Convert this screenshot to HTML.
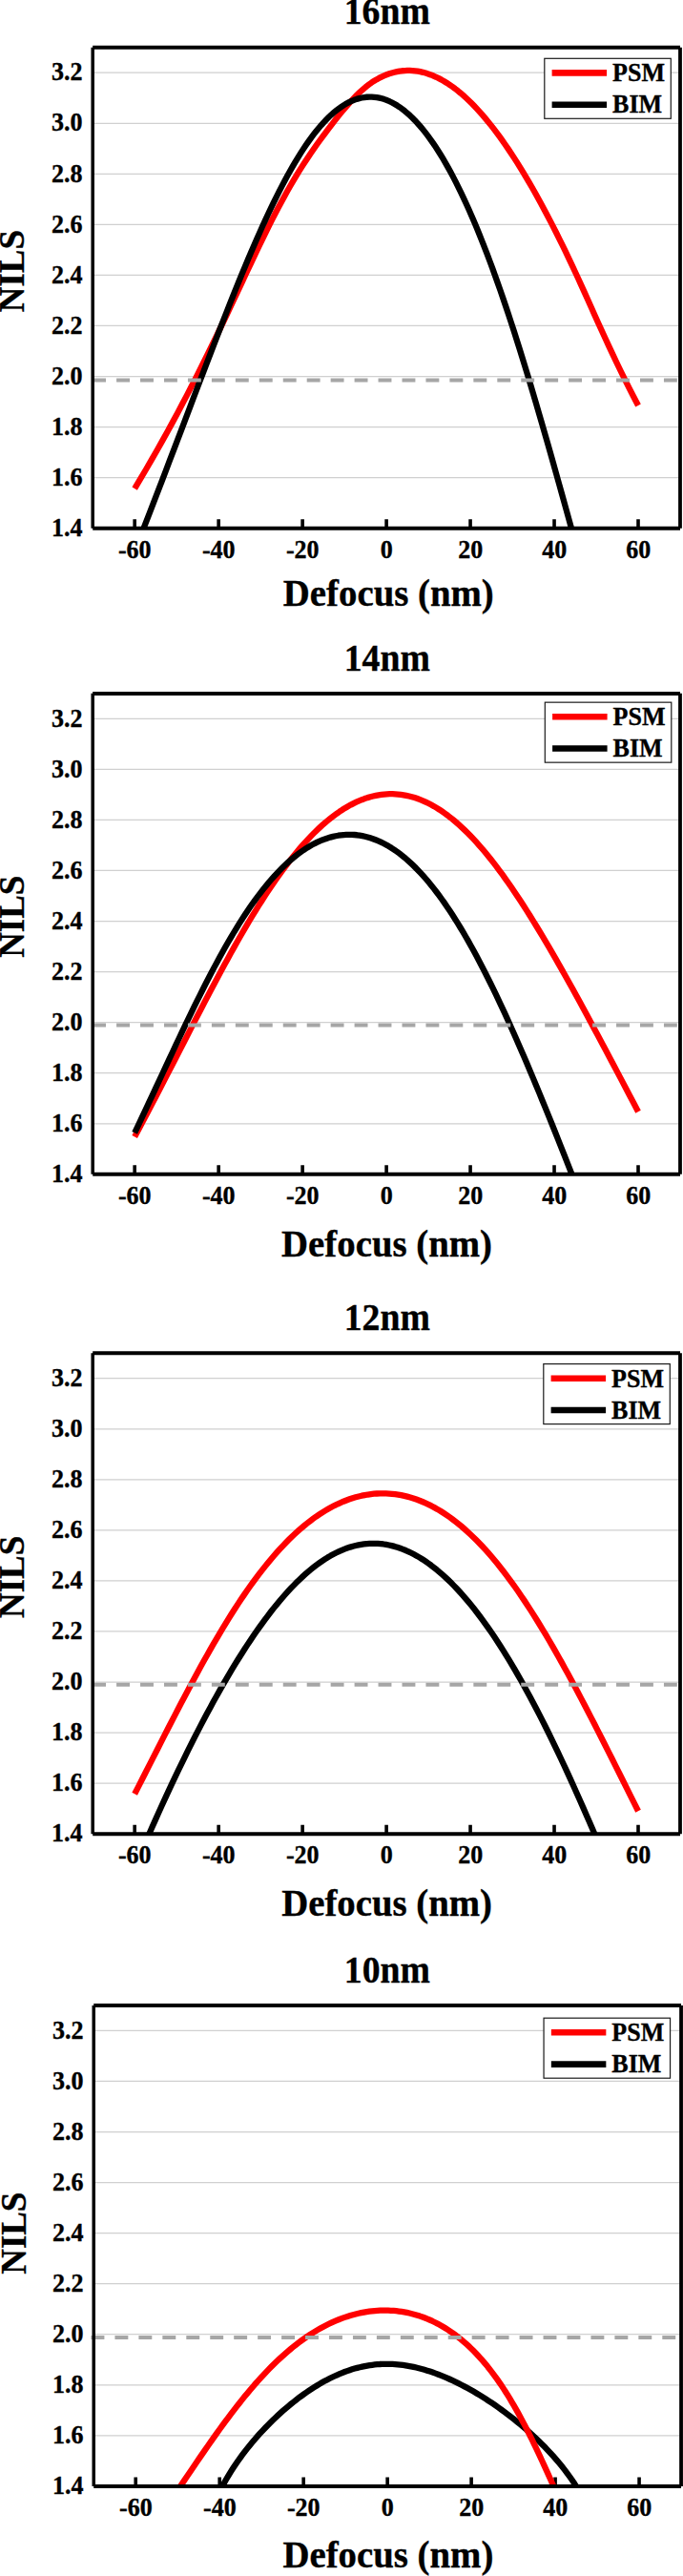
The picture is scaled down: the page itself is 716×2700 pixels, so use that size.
<!DOCTYPE html>
<html lang="en"><head><meta charset="utf-8"><title>NILS vs Defocus</title>
<style>html,body{margin:0;padding:0;background:#fff}body{width:716px;height:2700px;overflow:hidden}svg{display:block}
text{font-family:"Liberation Serif", "Times New Roman", serif;font-weight:bold;fill:#000;stroke:#000;stroke-width:0.35px}
.tk{font-size:26px}.ax{font-size:38.8px}.ay{font-size:36.9px}.tt{font-size:37.7px}.lg{font-size:26px}
</style></head><body>
<svg width="716" height="2700" viewBox="0 0 716 2700">
<rect width="716" height="2700" fill="#fff"/>
<g id="chart1">
<clipPath id="cp1"><rect x="97.2" y="49.7" width="615.8" height="504"/></clipPath>
<path d="M97.2,500.65H713M97.2,447.6H713M97.2,394.54H713M97.2,341.49H713M97.2,288.44H713M97.2,235.39H713M97.2,182.34H713M97.2,129.28H713M97.2,76.23H713" stroke="#d0d0d0" stroke-width="1.25" fill="none"/>
<path d="M141.18,553.7V544.2M229.16,553.7V544.2M317.13,553.7V544.2M405.1,553.7V544.2M493.07,553.7V544.2M581.04,553.7V544.2M669.02,553.7V544.2" stroke="#000" stroke-width="3.6" fill="none"/>
<g clip-path="url(#cp1)" fill="none" stroke-width="6.3" stroke-linejoin="round">
<path d="M141.18,512.02 L147.36,501.7 L153.36,491.51 L159.2,481.44 L164.88,471.49 L170.41,461.66 L175.78,451.96 L181.01,442.38 L186.11,432.93 L191.06,423.59 L195.89,414.38 L200.59,405.29 L205.17,396.33 L209.64,387.49 L213.99,378.77 L218.24,370.17 L222.39,361.7 L226.44,353.35 L230.4,345.12 L234.27,337.02 L238.06,329.03 L241.78,321.18 L245.42,313.44 L248.99,305.83 L252.51,298.34 L255.96,290.97 L259.36,283.73 L262.72,276.61 L266.03,269.61 L269.31,262.73 L272.55,255.98 L275.76,249.35 L278.95,242.85 L282.12,236.46 L285.27,230.2 L288.42,224.06 L291.55,218.05 L294.69,212.16 L297.82,206.39 L300.95,200.74 L304.08,195.22 L307.22,189.82 L310.37,184.54 L313.53,179.39 L316.7,174.36 L319.88,169.45 L323.05,164.66 L326.21,160 L329.35,155.46 L332.48,151.05 L335.57,146.75 L338.63,142.58 L341.65,138.53 L344.62,134.61 L347.54,130.81 L350.4,127.13 L353.2,123.57 L355.95,120.14 L358.65,116.83 L361.31,113.64 L363.93,110.58 L366.52,107.64 L369.08,104.82 L371.63,102.12 L374.16,99.55 L376.69,97.1 L379.21,94.77 L381.73,92.57 L384.26,90.49 L386.81,88.53 L389.38,86.69 L391.98,84.98 L394.6,83.39 L397.26,81.93 L399.94,80.58 L402.62,79.36 L405.31,78.27 L408,77.29 L410.69,76.44 L413.39,75.71 L416.09,75.11 L418.79,74.62 L421.51,74.26 L424.22,74.03 L426.94,73.91 L429.67,73.92 L432.4,74.05 L435.14,74.31 L437.88,74.68 L440.63,75.18 L443.38,75.81 L446.14,76.55 L448.91,77.42 L451.68,78.42 L454.46,79.53 L457.25,80.77 L460.05,82.13 L462.85,83.61 L465.66,85.22 L468.48,86.95 L471.3,88.8 L474.14,90.78 L476.98,92.88 L479.83,95.1 L482.69,97.44 L485.56,99.91 L488.43,102.5 L491.32,105.22 L494.21,108.05 L497.12,111.01 L500.03,114.09 L502.96,117.3 L505.89,120.63 L508.84,124.08 L511.79,127.65 L514.76,131.35 L517.73,135.17 L520.72,139.11 L523.72,143.18 L526.73,147.36 L529.75,151.68 L532.78,156.11 L535.83,160.67 L538.88,165.35 L541.95,170.15 L545.04,175.08 L548.13,180.12 L551.24,185.3 L554.36,190.59 L557.49,196.01 L560.63,201.55 L563.79,207.21 L566.97,213 L570.15,218.91 L573.36,224.94 L576.57,231.1 L579.8,237.37 L583.04,243.78 L586.3,250.3 L589.58,256.95 L592.87,263.72 L596.17,270.61 L599.49,277.63 L602.82,284.76 L606.17,292.03 L609.54,299.41 L612.94,306.92 L616.37,314.55 L619.86,322.3 L623.39,330.18 L627,338.18 L630.68,346.3 L634.46,354.54 L638.33,362.91 L642.31,371.4 L646.4,380.02 L650.63,388.75 L654.99,397.61 L659.5,406.6 L664.18,415.7 L669.02,424.93" stroke="#ff0000"/>
<path d="M132.39,600.23 L137.31,587.74 L142.15,575.41 L146.9,563.24 L151.57,551.23 L156.16,539.38 L160.68,527.69 L165.11,516.15 L169.47,504.77 L173.76,493.55 L177.98,482.49 L182.13,471.59 L186.22,460.85 L190.24,450.26 L194.2,439.83 L198.1,429.56 L201.94,419.45 L205.73,409.5 L209.46,399.7 L213.14,390.07 L216.76,380.59 L220.34,371.27 L223.88,362.11 L227.36,353.11 L230.8,344.26 L234.2,335.57 L237.56,327.05 L240.88,318.68 L244.17,310.47 L247.41,302.41 L250.62,294.52 L253.8,286.78 L256.95,279.2 L260.06,271.78 L263.15,264.52 L266.2,257.42 L269.24,250.47 L272.24,243.69 L275.22,237.06 L278.18,230.59 L281.11,224.28 L284.03,218.12 L286.92,212.13 L289.8,206.29 L292.66,200.61 L295.5,195.09 L298.32,189.73 L301.13,184.53 L303.93,179.48 L306.71,174.6 L309.48,169.87 L312.24,165.3 L314.98,160.89 L317.72,156.63 L320.45,152.54 L323.17,148.6 L325.88,144.82 L328.58,141.2 L331.27,137.74 L333.96,134.44 L336.65,131.29 L339.33,128.3 L342,125.48 L344.67,122.81 L347.33,120.29 L350,117.94 L352.66,115.74 L355.31,113.71 L357.97,111.83 L360.62,110.11 L363.27,108.55 L365.92,107.14 L368.57,105.9 L371.22,104.81 L373.86,103.88 L376.51,103.11 L379.16,102.5 L381.81,102.04 L384.45,101.75 L387.1,101.61 L389.75,101.63 L392.4,101.81 L395.05,102.15 L397.7,102.64 L400.36,103.3 L403.01,104.11 L405.67,105.08 L408.32,106.21 L410.98,107.5 L413.64,108.94 L416.3,110.55 L418.96,112.31 L421.63,114.23 L424.29,116.31 L426.96,118.55 L429.63,120.94 L432.3,123.5 L434.97,126.21 L437.65,129.08 L440.33,132.11 L443,135.3 L445.68,138.64 L448.36,142.15 L451.05,145.81 L453.73,149.63 L456.42,153.61 L459.11,157.75 L461.8,162.04 L464.49,166.49 L467.18,171.11 L469.88,175.88 L472.58,180.81 L475.28,185.89 L477.99,191.14 L480.69,196.54 L483.4,202.1 L486.11,207.82 L488.83,213.7 L491.55,219.74 L494.27,225.94 L497,232.29 L499.73,238.8 L502.46,245.47 L505.2,252.3 L507.95,259.29 L510.7,266.43 L513.45,273.74 L516.21,281.2 L518.98,288.82 L521.76,296.6 L524.55,304.53 L527.34,312.63 L530.14,320.88 L532.95,329.29 L535.77,337.86 L538.61,346.59 L541.45,355.48 L544.31,364.52 L547.18,373.73 L550.07,383.09 L552.97,392.61 L555.89,402.28 L558.82,412.12 L561.78,422.12 L564.75,432.27 L567.75,442.58 L570.77,453.05 L573.81,463.68 L576.87,474.46 L579.97,485.41 L583.09,496.51 L586.24,507.77 L589.42,519.19 L592.64,530.77 L595.89,542.51 L599.17,554.4 L602.5,566.46 L605.87,578.67 L609.28,591.04 L612.73,603.56 L616.23,616.25" stroke="#000"/>
</g>
<path d="M97.15,398.54H714.5" stroke="#a6a6a6" stroke-width="4.1" stroke-dasharray="13.9 11.05" fill="none"/>
<path d="M97.2,49.8H713M713,553.7H97.2" fill="none" stroke="#000" stroke-width="3.95"/>
<path d="M713,49.7V553.7" fill="none" stroke="#000" stroke-width="3.8"/>
<path d="M97.2,553.7V49.7" fill="none" stroke="#000" stroke-width="3.5"/>
<text class="tk" transform="translate(86.4,561.9) scale(1,1.04)" text-anchor="end">1.4</text>
<text class="tk" transform="translate(86.4,508.85) scale(1,1.04)" text-anchor="end">1.6</text>
<text class="tk" transform="translate(86.4,455.8) scale(1,1.04)" text-anchor="end">1.8</text>
<text class="tk" transform="translate(86.4,402.74) scale(1,1.04)" text-anchor="end">2.0</text>
<text class="tk" transform="translate(86.4,349.69) scale(1,1.04)" text-anchor="end">2.2</text>
<text class="tk" transform="translate(86.4,296.64) scale(1,1.04)" text-anchor="end">2.4</text>
<text class="tk" transform="translate(86.4,243.59) scale(1,1.04)" text-anchor="end">2.6</text>
<text class="tk" transform="translate(86.4,190.54) scale(1,1.04)" text-anchor="end">2.8</text>
<text class="tk" transform="translate(86.4,137.48) scale(1,1.04)" text-anchor="end">3.0</text>
<text class="tk" transform="translate(86.4,84.43) scale(1,1.04)" text-anchor="end">3.2</text>
<text class="tk" transform="translate(141.28,584.9) scale(1,1.04)" text-anchor="middle">-60</text>
<text class="tk" transform="translate(229.26,584.9) scale(1,1.04)" text-anchor="middle">-40</text>
<text class="tk" transform="translate(317.23,584.9) scale(1,1.04)" text-anchor="middle">-20</text>
<text class="tk" transform="translate(405.2,584.9) scale(1,1.04)" text-anchor="middle">0</text>
<text class="tk" transform="translate(493.17,584.9) scale(1,1.04)" text-anchor="middle">20</text>
<text class="tk" transform="translate(581.14,584.9) scale(1,1.04)" text-anchor="middle">40</text>
<text class="tk" transform="translate(669.12,584.9) scale(1,1.04)" text-anchor="middle">60</text>
<text class="ax" transform="translate(407.3,634.5) scale(1,1.04)" text-anchor="middle">Defocus (nm)</text>
<text class="ay" transform="translate(24.9,284.1) rotate(-90) scale(1,1.04)" text-anchor="middle">NILS</text>
<text class="tt" transform="translate(405.8,25.4) scale(1,1.04)" text-anchor="middle">16nm</text>
<rect x="570.8" y="61.3" width="132.5" height="63" fill="#fff" stroke="#1a1a1a" stroke-width="1.2"/>
<path d="M578.6,76.4H636.1" stroke="#ff0000" stroke-width="6.6"/>
<path d="M578.6,109.7H636.1" stroke="#000" stroke-width="6.6"/>
<text class="lg" transform="translate(642.1,85.4) scale(1,1.04)">PSM</text>
<text class="lg" transform="translate(642.1,118.3) scale(1,1.04)">BIM</text>
</g>
<g id="chart2">
<clipPath id="cp2"><rect x="97.2" y="726.85" width="615.8" height="503.95"/></clipPath>
<path d="M97.2,1177.75H713M97.2,1124.7H713M97.2,1071.64H713M97.2,1018.59H713M97.2,965.54H713M97.2,912.49H713M97.2,859.44H713M97.2,806.38H713M97.2,753.33H713" stroke="#d0d0d0" stroke-width="1.25" fill="none"/>
<path d="M141.18,1230.8V1221.3M229.16,1230.8V1221.3M317.13,1230.8V1221.3M405.1,1230.8V1221.3M493.07,1230.8V1221.3M581.04,1230.8V1221.3M669.02,1230.8V1221.3" stroke="#000" stroke-width="3.6" fill="none"/>
<g clip-path="url(#cp2)" fill="none" stroke-width="6.3" stroke-linejoin="round">
<path d="M141.18,1191.47 L145.86,1182.71 L150.44,1174.05 L154.94,1165.51 L159.36,1157.07 L163.7,1148.74 L167.97,1140.53 L172.17,1132.41 L176.3,1124.41 L180.36,1116.51 L184.36,1108.73 L188.31,1101.05 L192.2,1093.48 L196.03,1086.01 L199.82,1078.66 L203.55,1071.41 L207.25,1064.27 L210.89,1057.24 L214.5,1050.32 L218.07,1043.51 L221.6,1036.8 L225.09,1030.2 L228.55,1023.71 L231.98,1017.33 L235.38,1011.06 L238.75,1004.89 L242.09,998.84 L245.41,992.89 L248.71,987.05 L251.98,981.31 L255.23,975.69 L258.46,970.17 L261.67,964.76 L264.87,959.46 L268.04,954.27 L271.2,949.19 L274.35,944.21 L277.48,939.34 L280.6,934.58 L283.71,929.93 L286.8,925.39 L289.88,920.95 L292.96,916.63 L296.02,912.41 L299.07,908.3 L302.12,904.3 L305.16,900.4 L308.19,896.61 L311.21,892.94 L314.22,889.37 L317.23,885.9 L320.24,882.55 L323.23,879.3 L326.23,876.17 L329.21,873.14 L332.19,870.22 L335.17,867.4 L338.14,864.7 L341.11,862.1 L344.08,859.61 L347.04,857.23 L350,854.96 L352.95,852.79 L355.9,850.74 L358.85,848.79 L361.79,846.95 L364.73,845.22 L367.67,843.59 L370.6,842.08 L373.54,840.67 L376.46,839.37 L379.39,838.18 L382.32,837.1 L385.24,836.12 L388.16,835.25 L391.08,834.5 L393.99,833.85 L396.9,833.3 L399.82,832.87 L402.73,832.54 L405.63,832.32 L408.54,832.21 L411.45,832.21 L414.35,832.32 L417.25,832.53 L420.16,832.86 L423.06,833.29 L425.96,833.83 L428.86,834.47 L431.76,835.23 L434.66,836.09 L437.56,837.06 L440.46,838.14 L443.37,839.33 L446.27,840.63 L449.17,842.03 L452.08,843.54 L454.99,845.16 L457.9,846.89 L460.81,848.73 L463.73,850.67 L466.65,852.72 L469.57,854.88 L472.5,857.15 L475.43,859.53 L478.37,862.02 L481.32,864.61 L484.27,867.31 L487.22,870.12 L490.19,873.04 L493.16,876.06 L496.14,879.2 L499.13,882.44 L502.13,885.79 L505.14,889.25 L508.16,892.81 L511.19,896.49 L514.23,900.27 L517.29,904.16 L520.36,908.16 L523.45,912.27 L526.55,916.48 L529.66,920.81 L532.79,925.24 L535.95,929.78 L539.11,934.43 L542.3,939.18 L545.51,944.05 L548.74,949.02 L551.99,954.1 L555.26,959.29 L558.56,964.58 L561.88,969.99 L565.23,975.5 L568.61,981.12 L572.01,986.85 L575.44,992.69 L578.9,998.64 L582.39,1004.69 L585.91,1010.85 L589.46,1017.12 L593.05,1023.5 L596.67,1029.98 L600.33,1036.58 L604.03,1043.28 L607.76,1050.09 L611.53,1057.01 L615.34,1064.04 L619.2,1071.17 L623.09,1078.41 L627.03,1085.77 L631.01,1093.22 L635.04,1100.79 L639.11,1108.47 L643.23,1116.25 L647.4,1124.14 L651.62,1132.14 L655.89,1140.25 L660.21,1148.47 L664.59,1156.79 L669.02,1165.22" stroke="#ff0000"/>
<path d="M141.18,1187.31 L145.12,1179.04 L148.98,1170.89 L152.77,1162.84 L156.49,1154.91 L160.16,1147.09 L163.76,1139.37 L167.31,1131.77 L170.81,1124.28 L174.26,1116.9 L177.66,1109.63 L181.01,1102.48 L184.33,1095.43 L187.6,1088.49 L190.84,1081.67 L194.04,1074.95 L197.21,1068.35 L200.35,1061.85 L203.46,1055.47 L206.55,1049.2 L209.61,1043.04 L212.64,1036.99 L215.66,1031.05 L218.65,1025.22 L221.63,1019.5 L224.58,1013.9 L227.53,1008.4 L230.45,1003.01 L233.37,997.74 L236.27,992.58 L239.16,987.52 L242.04,982.58 L244.91,977.75 L247.77,973.03 L250.63,968.42 L253.48,963.92 L256.32,959.53 L259.15,955.25 L261.98,951.09 L264.81,947.03 L267.63,943.08 L270.45,939.25 L273.27,935.53 L276.09,931.91 L278.9,928.41 L281.71,925.02 L284.52,921.74 L287.33,918.57 L290.13,915.51 L292.94,912.56 L295.75,909.73 L298.55,907 L301.36,904.38 L304.16,901.88 L306.97,899.48 L309.77,897.2 L312.58,895.03 L315.38,892.97 L318.19,891.02 L320.99,889.18 L323.8,887.45 L326.6,885.83 L329.41,884.32 L332.21,882.92 L335.02,881.64 L337.82,880.46 L340.63,879.4 L343.43,878.44 L346.24,877.6 L349.04,876.87 L351.84,876.25 L354.64,875.74 L357.44,875.34 L360.24,875.05 L363.04,874.87 L365.84,874.8 L368.64,874.84 L371.43,875 L374.23,875.26 L377.02,875.64 L379.81,876.12 L382.6,876.72 L385.39,877.43 L388.17,878.25 L390.96,879.18 L393.74,880.22 L396.52,881.37 L399.3,882.63 L402.08,884 L404.86,885.49 L407.63,887.08 L410.41,888.79 L413.18,890.6 L415.95,892.53 L418.72,894.57 L421.48,896.72 L424.25,898.97 L427.02,901.34 L429.78,903.83 L432.54,906.42 L435.31,909.12 L438.07,911.93 L440.83,914.86 L443.6,917.89 L446.36,921.04 L449.13,924.29 L451.89,927.66 L454.66,931.14 L457.43,934.72 L460.2,938.42 L462.97,942.23 L465.74,946.16 L468.52,950.19 L471.3,954.33 L474.09,958.58 L476.88,962.95 L479.67,967.42 L482.47,972.01 L485.28,976.7 L488.09,981.51 L490.91,986.43 L493.73,991.46 L496.56,996.6 L499.4,1001.85 L502.25,1007.21 L505.11,1012.68 L507.98,1018.26 L510.86,1023.96 L513.75,1029.76 L516.66,1035.68 L519.57,1041.7 L522.5,1047.84 L525.44,1054.09 L528.4,1060.44 L531.37,1066.91 L534.36,1073.49 L537.36,1080.18 L540.38,1086.99 L543.42,1093.9 L546.48,1100.92 L549.56,1108.05 L552.65,1115.3 L555.77,1122.65 L558.91,1130.12 L562.07,1137.7 L565.26,1145.39 L568.46,1153.18 L571.7,1161.09 L574.95,1169.11 L578.24,1177.24 L581.55,1185.49 L584.88,1193.84 L588.25,1202.3 L591.64,1210.88 L595.06,1219.56 L598.51,1228.36 L601.99,1237.26 L605.5,1246.28 L609.05,1255.41 L612.62,1264.65 L616.23,1274" stroke="#000"/>
</g>
<path d="M97.15,1074.54H714.5" stroke="#a6a6a6" stroke-width="4.1" stroke-dasharray="13.9 11.05" fill="none"/>
<path d="M97.2,726.95H713M713,1230.8H97.2" fill="none" stroke="#000" stroke-width="3.95"/>
<path d="M713,726.85V1230.8" fill="none" stroke="#000" stroke-width="3.8"/>
<path d="M97.2,1230.8V726.85" fill="none" stroke="#000" stroke-width="3.5"/>
<text class="tk" transform="translate(86.4,1239) scale(1,1.04)" text-anchor="end">1.4</text>
<text class="tk" transform="translate(86.4,1185.95) scale(1,1.04)" text-anchor="end">1.6</text>
<text class="tk" transform="translate(86.4,1132.9) scale(1,1.04)" text-anchor="end">1.8</text>
<text class="tk" transform="translate(86.4,1079.84) scale(1,1.04)" text-anchor="end">2.0</text>
<text class="tk" transform="translate(86.4,1026.79) scale(1,1.04)" text-anchor="end">2.2</text>
<text class="tk" transform="translate(86.4,973.74) scale(1,1.04)" text-anchor="end">2.4</text>
<text class="tk" transform="translate(86.4,920.69) scale(1,1.04)" text-anchor="end">2.6</text>
<text class="tk" transform="translate(86.4,867.64) scale(1,1.04)" text-anchor="end">2.8</text>
<text class="tk" transform="translate(86.4,814.58) scale(1,1.04)" text-anchor="end">3.0</text>
<text class="tk" transform="translate(86.4,761.53) scale(1,1.04)" text-anchor="end">3.2</text>
<text class="tk" transform="translate(141.28,1262) scale(1,1.04)" text-anchor="middle">-60</text>
<text class="tk" transform="translate(229.26,1262) scale(1,1.04)" text-anchor="middle">-40</text>
<text class="tk" transform="translate(317.23,1262) scale(1,1.04)" text-anchor="middle">-20</text>
<text class="tk" transform="translate(405.2,1262) scale(1,1.04)" text-anchor="middle">0</text>
<text class="tk" transform="translate(493.17,1262) scale(1,1.04)" text-anchor="middle">20</text>
<text class="tk" transform="translate(581.14,1262) scale(1,1.04)" text-anchor="middle">40</text>
<text class="tk" transform="translate(669.12,1262) scale(1,1.04)" text-anchor="middle">60</text>
<text class="ax" transform="translate(405.55,1316.8) scale(1,1.04)" text-anchor="middle">Defocus (nm)</text>
<text class="ay" transform="translate(24.9,960.75) rotate(-90) scale(1,1.04)" text-anchor="middle">NILS</text>
<text class="tt" transform="translate(405.8,702.65) scale(1,1.04)" text-anchor="middle">14nm</text>
<rect x="571.3" y="736.15" width="132.5" height="63" fill="#fff" stroke="#1a1a1a" stroke-width="1.2"/>
<path d="M579.1,751.25H636.6" stroke="#ff0000" stroke-width="6.6"/>
<path d="M579.1,784.55H636.6" stroke="#000" stroke-width="6.6"/>
<text class="lg" transform="translate(642.6,760.25) scale(1,1.04)">PSM</text>
<text class="lg" transform="translate(642.6,793.15) scale(1,1.04)">BIM</text>
</g>
<g id="chart3">
<clipPath id="cp3"><rect x="97.2" y="1418.2" width="615.8" height="504"/></clipPath>
<path d="M97.2,1869.15H713M97.2,1816.1H713M97.2,1763.04H713M97.2,1709.99H713M97.2,1656.94H713M97.2,1603.89H713M97.2,1550.84H713M97.2,1497.78H713M97.2,1444.73H713" stroke="#d0d0d0" stroke-width="1.25" fill="none"/>
<path d="M141.18,1922.2V1912.7M229.16,1922.2V1912.7M317.13,1922.2V1912.7M405.1,1922.2V1912.7M493.07,1922.2V1912.7M581.04,1922.2V1912.7M669.02,1922.2V1912.7" stroke="#000" stroke-width="3.6" fill="none"/>
<g clip-path="url(#cp3)" fill="none" stroke-width="6.3" stroke-linejoin="round">
<path d="M141.18,1880.29 L145.23,1872.36 L149.23,1864.52 L153.16,1856.79 L157.04,1849.16 L160.87,1841.63 L164.65,1834.2 L168.38,1826.87 L172.07,1819.65 L175.72,1812.52 L179.33,1805.5 L182.91,1798.58 L186.45,1791.75 L189.95,1785.03 L193.43,1778.41 L196.88,1771.9 L200.3,1765.48 L203.69,1759.16 L207.06,1752.95 L210.41,1746.84 L213.74,1740.83 L217.05,1734.92 L220.34,1729.11 L223.61,1723.4 L226.88,1717.79 L230.12,1712.29 L233.36,1706.88 L236.58,1701.58 L239.79,1696.38 L242.99,1691.28 L246.19,1686.28 L249.37,1681.38 L252.55,1676.58 L255.73,1671.88 L258.9,1667.29 L262.06,1662.8 L265.22,1658.4 L268.38,1654.11 L271.53,1649.92 L274.68,1645.84 L277.84,1641.85 L280.99,1637.96 L284.13,1634.18 L287.28,1630.49 L290.43,1626.91 L293.58,1623.43 L296.73,1620.05 L299.88,1616.77 L303.03,1613.59 L306.18,1610.52 L309.34,1607.54 L312.49,1604.67 L315.65,1601.9 L318.81,1599.23 L321.97,1596.66 L325.14,1594.19 L328.3,1591.82 L331.47,1589.55 L334.64,1587.39 L337.81,1585.32 L340.98,1583.36 L344.16,1581.5 L347.33,1579.74 L350.51,1578.08 L353.69,1576.52 L356.87,1575.07 L360.06,1573.71 L363.24,1572.46 L366.43,1571.3 L369.61,1570.25 L372.8,1569.3 L375.99,1568.45 L379.17,1567.7 L382.36,1567.06 L385.55,1566.51 L388.74,1566.07 L391.93,1565.72 L395.12,1565.48 L398.3,1565.34 L401.49,1565.3 L404.68,1565.36 L407.86,1565.53 L411.05,1565.79 L414.23,1566.15 L417.41,1566.62 L420.59,1567.19 L423.77,1567.86 L426.94,1568.63 L430.12,1569.5 L433.29,1570.47 L436.46,1571.55 L439.63,1572.72 L442.79,1574 L445.96,1575.38 L449.12,1576.85 L452.28,1578.43 L455.43,1580.12 L458.58,1581.9 L461.74,1583.78 L464.88,1585.77 L468.03,1587.85 L471.17,1590.04 L474.32,1592.33 L477.46,1594.72 L480.59,1597.21 L483.73,1599.8 L486.86,1602.5 L490,1605.29 L493.13,1608.19 L496.26,1611.18 L499.39,1614.28 L502.52,1617.48 L505.65,1620.78 L508.78,1624.19 L511.91,1627.69 L515.04,1631.29 L518.17,1635 L521.31,1638.81 L524.44,1642.71 L527.58,1646.72 L530.73,1650.83 L533.87,1655.05 L537.02,1659.36 L540.18,1663.77 L543.34,1668.29 L546.51,1672.91 L549.69,1677.62 L552.87,1682.44 L556.06,1687.36 L559.26,1692.38 L562.47,1697.51 L565.69,1702.73 L568.93,1708.06 L572.17,1713.48 L575.44,1719.01 L578.71,1724.64 L582,1730.37 L585.31,1736.2 L588.64,1742.13 L591.98,1748.17 L595.35,1754.3 L598.73,1760.54 L602.14,1766.88 L605.57,1773.32 L609.03,1779.86 L612.52,1786.5 L616.03,1793.24 L619.57,1800.08 L623.15,1807.03 L626.75,1814.08 L630.39,1821.22 L634.07,1828.47 L637.78,1835.82 L641.53,1843.27 L645.32,1850.82 L649.16,1858.48 L653.03,1866.23 L656.96,1874.09 L660.93,1882.05 L664.95,1890.1 L669.02,1898.26" stroke="#ff0000"/>
<path d="M141.18,1957.84 L144.76,1949.33 L148.32,1940.92 L151.88,1932.63 L155.43,1924.44 L158.97,1916.36 L162.5,1908.39 L166.02,1900.53 L169.52,1892.78 L173.02,1885.13 L176.5,1877.59 L179.97,1870.16 L183.43,1862.83 L186.88,1855.62 L190.31,1848.51 L193.73,1841.51 L197.14,1834.62 L200.53,1827.83 L203.91,1821.16 L207.27,1814.59 L210.62,1808.13 L213.96,1801.77 L217.28,1795.53 L220.59,1789.39 L223.88,1783.36 L227.16,1777.44 L230.43,1771.62 L233.68,1765.92 L236.92,1760.32 L240.15,1754.83 L243.36,1749.45 L246.56,1744.17 L249.75,1739.01 L252.93,1733.95 L256.09,1729 L259.24,1724.15 L262.38,1719.42 L265.5,1714.79 L268.62,1710.27 L271.72,1705.86 L274.82,1701.55 L277.9,1697.36 L280.97,1693.27 L284.03,1689.29 L287.08,1685.42 L290.13,1681.65 L293.16,1677.99 L296.19,1674.44 L299.2,1671 L302.21,1667.67 L305.21,1664.44 L308.21,1661.33 L311.19,1658.32 L314.17,1655.41 L317.15,1652.62 L320.11,1649.93 L323.07,1647.35 L326.03,1644.88 L328.98,1642.52 L331.93,1640.26 L334.87,1638.12 L337.81,1636.08 L340.74,1634.15 L343.67,1632.32 L346.6,1630.61 L349.52,1629 L352.44,1627.5 L355.36,1626.11 L358.28,1624.82 L361.19,1623.64 L364.11,1622.58 L367.02,1621.61 L369.93,1620.76 L372.84,1620.02 L375.75,1619.38 L378.66,1618.85 L381.57,1618.43 L384.48,1618.11 L387.39,1617.91 L390.3,1617.81 L393.21,1617.82 L396.12,1617.94 L399.04,1618.16 L401.95,1618.49 L404.87,1618.94 L407.79,1619.48 L410.71,1620.14 L413.64,1620.91 L416.56,1621.78 L419.49,1622.76 L422.42,1623.85 L425.35,1625.04 L428.29,1626.35 L431.23,1627.76 L434.17,1629.28 L437.12,1630.9 L440.07,1632.64 L443.02,1634.48 L445.97,1636.43 L448.93,1638.49 L451.9,1640.66 L454.86,1642.93 L457.84,1645.31 L460.81,1647.8 L463.79,1650.4 L466.77,1653.11 L469.76,1655.92 L472.75,1658.84 L475.75,1661.87 L478.75,1665.01 L481.76,1668.25 L484.77,1671.6 L487.78,1675.07 L490.8,1678.63 L493.83,1682.31 L496.86,1686.09 L499.89,1689.99 L502.94,1693.99 L505.98,1698.09 L509.04,1702.31 L512.09,1706.63 L515.16,1711.06 L518.23,1715.6 L521.3,1720.25 L524.39,1725 L527.48,1729.87 L530.57,1734.84 L533.67,1739.91 L536.78,1745.1 L539.9,1750.39 L543.03,1755.8 L546.16,1761.31 L549.3,1766.92 L552.45,1772.65 L555.61,1778.48 L558.78,1784.42 L561.96,1790.47 L565.15,1796.63 L568.35,1802.89 L571.56,1809.26 L574.78,1815.74 L578.01,1822.33 L581.26,1829.03 L584.52,1835.83 L587.79,1842.74 L591.07,1849.76 L594.38,1856.89 L597.69,1864.12 L601.03,1871.47 L604.38,1878.92 L607.75,1886.48 L611.13,1894.14 L614.54,1901.92 L617.97,1909.8 L621.42,1917.79 L624.89,1925.89 L628.38,1934.09 L631.9,1942.41 L635.45,1950.83 L639.02,1959.36 L642.62,1967.99" stroke="#000"/>
</g>
<path d="M97.15,1765.74H714.5" stroke="#a6a6a6" stroke-width="4.1" stroke-dasharray="13.9 11.05" fill="none"/>
<path d="M97.2,1418.3H713M713,1922.2H97.2" fill="none" stroke="#000" stroke-width="3.95"/>
<path d="M713,1418.2V1922.2" fill="none" stroke="#000" stroke-width="3.8"/>
<path d="M97.2,1922.2V1418.2" fill="none" stroke="#000" stroke-width="3.5"/>
<text class="tk" transform="translate(86.4,1930.4) scale(1,1.04)" text-anchor="end">1.4</text>
<text class="tk" transform="translate(86.4,1877.35) scale(1,1.04)" text-anchor="end">1.6</text>
<text class="tk" transform="translate(86.4,1824.3) scale(1,1.04)" text-anchor="end">1.8</text>
<text class="tk" transform="translate(86.4,1771.24) scale(1,1.04)" text-anchor="end">2.0</text>
<text class="tk" transform="translate(86.4,1718.19) scale(1,1.04)" text-anchor="end">2.2</text>
<text class="tk" transform="translate(86.4,1665.14) scale(1,1.04)" text-anchor="end">2.4</text>
<text class="tk" transform="translate(86.4,1612.09) scale(1,1.04)" text-anchor="end">2.6</text>
<text class="tk" transform="translate(86.4,1559.04) scale(1,1.04)" text-anchor="end">2.8</text>
<text class="tk" transform="translate(86.4,1505.98) scale(1,1.04)" text-anchor="end">3.0</text>
<text class="tk" transform="translate(86.4,1452.93) scale(1,1.04)" text-anchor="end">3.2</text>
<text class="tk" transform="translate(141.28,1953.4) scale(1,1.04)" text-anchor="middle">-60</text>
<text class="tk" transform="translate(229.26,1953.4) scale(1,1.04)" text-anchor="middle">-40</text>
<text class="tk" transform="translate(317.23,1953.4) scale(1,1.04)" text-anchor="middle">-20</text>
<text class="tk" transform="translate(405.2,1953.4) scale(1,1.04)" text-anchor="middle">0</text>
<text class="tk" transform="translate(493.17,1953.4) scale(1,1.04)" text-anchor="middle">20</text>
<text class="tk" transform="translate(581.14,1953.4) scale(1,1.04)" text-anchor="middle">40</text>
<text class="tk" transform="translate(669.12,1953.4) scale(1,1.04)" text-anchor="middle">60</text>
<text class="ax" transform="translate(405.6,2008.4) scale(1,1.04)" text-anchor="middle">Defocus (nm)</text>
<text class="ay" transform="translate(24.9,1652.9) rotate(-90) scale(1,1.04)" text-anchor="middle">NILS</text>
<text class="tt" transform="translate(405.8,1393.8) scale(1,1.04)" text-anchor="middle">12nm</text>
<rect x="569.8" y="1429.6" width="132.5" height="63" fill="#fff" stroke="#1a1a1a" stroke-width="1.2"/>
<path d="M577.6,1444.7H635.1" stroke="#ff0000" stroke-width="6.6"/>
<path d="M577.6,1478H635.1" stroke="#000" stroke-width="6.6"/>
<text class="lg" transform="translate(641.1,1453.7) scale(1,1.04)">PSM</text>
<text class="lg" transform="translate(641.1,1486.6) scale(1,1.04)">BIM</text>
</g>
<g id="chart4">
<clipPath id="cp4"><rect x="98.25" y="2101.9" width="615.8" height="504"/></clipPath>
<path d="M98.25,2552.85H714.05M98.25,2499.8H714.05M98.25,2446.74H714.05M98.25,2393.69H714.05M98.25,2340.64H714.05M98.25,2287.59H714.05M98.25,2234.54H714.05M98.25,2181.48H714.05M98.25,2128.43H714.05" stroke="#d0d0d0" stroke-width="1.25" fill="none"/>
<path d="M142.23,2605.9V2596.4M230.21,2605.9V2596.4M318.18,2605.9V2596.4M406.15,2605.9V2596.4M494.12,2605.9V2596.4M582.09,2605.9V2596.4M670.07,2605.9V2596.4" stroke="#000" stroke-width="3.6" fill="none"/>
<g clip-path="url(#cp4)" fill="none" stroke-width="6.3" stroke-linejoin="round">
<path d="M212.61,2674.73 L213.01,2669.94 L213.55,2665.21 L214.24,2660.54 L215.07,2655.93 L216.03,2651.37 L217.12,2646.88 L218.33,2642.45 L219.64,2638.07 L221.07,2633.75 L222.6,2629.49 L224.22,2625.29 L225.93,2621.15 L227.73,2617.07 L229.61,2613.05 L231.56,2609.08 L233.59,2605.18 L235.68,2601.33 L237.83,2597.55 L240.04,2593.82 L242.31,2590.15 L244.62,2586.54 L246.99,2582.99 L249.39,2579.5 L251.83,2576.06 L254.31,2572.69 L256.83,2569.37 L259.37,2566.12 L261.94,2562.92 L264.54,2559.78 L267.16,2556.7 L269.79,2553.68 L272.45,2550.72 L275.12,2547.82 L277.8,2544.97 L280.5,2542.19 L283.2,2539.46 L285.91,2536.8 L288.63,2534.19 L291.35,2531.64 L294.08,2529.15 L296.81,2526.72 L299.54,2524.35 L302.27,2522.03 L305,2519.78 L307.73,2517.58 L310.45,2515.45 L313.17,2513.37 L315.89,2511.35 L318.61,2509.39 L321.31,2507.49 L324.02,2505.65 L326.72,2503.87 L329.41,2502.14 L332.1,2500.48 L334.78,2498.87 L337.45,2497.33 L340.12,2495.84 L342.79,2494.41 L345.45,2493.04 L348.1,2491.73 L350.75,2490.48 L353.39,2489.28 L356.03,2488.15 L358.67,2487.07 L361.3,2486.06 L363.93,2485.1 L366.56,2484.2 L369.19,2483.36 L371.81,2482.58 L374.44,2481.86 L377.06,2481.2 L379.69,2480.6 L382.31,2480.05 L384.94,2479.57 L387.58,2479.14 L390.21,2478.77 L392.85,2478.46 L395.5,2478.21 L398.15,2478.02 L400.81,2477.89 L403.48,2477.82 L406.15,2477.8 L408.84,2477.85 L411.53,2477.95 L414.24,2478.11 L416.95,2478.34 L419.68,2478.62 L422.42,2478.96 L425.18,2479.35 L427.94,2479.81 L430.73,2480.33 L433.53,2480.9 L436.34,2481.54 L439.17,2482.23 L442.02,2482.98 L444.88,2483.79 L447.76,2484.66 L450.67,2485.59 L453.58,2486.58 L456.52,2487.63 L459.48,2488.73 L462.45,2489.9 L465.45,2491.12 L468.46,2492.41 L471.49,2493.75 L474.54,2495.15 L477.61,2496.61 L480.7,2498.13 L483.8,2499.7 L486.93,2501.34 L490.07,2503.04 L493.23,2504.79 L496.4,2506.6 L499.59,2508.48 L502.79,2510.41 L506.01,2512.4 L509.24,2514.45 L512.48,2516.56 L515.73,2518.72 L518.99,2520.95 L522.26,2523.23 L525.53,2525.58 L528.81,2527.98 L532.09,2530.44 L535.37,2532.96 L538.65,2535.54 L541.93,2538.18 L545.2,2540.88 L548.47,2543.64 L551.72,2546.45 L554.96,2549.33 L558.18,2552.26 L561.39,2555.25 L564.57,2558.3 L567.73,2561.41 L570.86,2564.58 L573.96,2567.81 L577.02,2571.1 L580.05,2574.44 L583.03,2577.85 L585.96,2581.31 L588.85,2584.84 L591.67,2588.42 L594.44,2592.06 L597.14,2595.76 L599.77,2599.52 L602.33,2603.33 L604.81,2607.21 L607.2,2611.15 L609.5,2615.14 L611.7,2619.19 L613.8,2623.31 L615.78,2627.48 L617.66,2631.71 L619.41,2636 L621.03,2640.35 L622.51,2644.75 L623.86,2649.22 L625.05,2653.74 L626.08,2658.33" stroke="#000"/>
<path d="M168.63,2636.18 L172.26,2630.82 L175.85,2625.54 L179.37,2620.32 L182.85,2615.17 L186.28,2610.09 L189.66,2605.07 L193,2600.13 L196.29,2595.25 L199.55,2590.43 L202.77,2585.69 L205.96,2581.01 L209.11,2576.4 L212.23,2571.86 L215.33,2567.39 L218.39,2562.98 L221.43,2558.64 L224.45,2554.37 L227.45,2550.17 L230.42,2546.03 L233.38,2541.96 L236.32,2537.96 L239.24,2534.03 L242.15,2530.16 L245.05,2526.37 L247.93,2522.64 L250.8,2518.97 L253.67,2515.38 L256.52,2511.85 L259.37,2508.39 L262.21,2505 L265.05,2501.68 L267.88,2498.42 L270.7,2495.23 L273.52,2492.11 L276.34,2489.05 L279.16,2486.07 L281.98,2483.15 L284.79,2480.3 L287.61,2477.51 L290.42,2474.8 L293.24,2472.15 L296.06,2469.57 L298.87,2467.06 L301.69,2464.61 L304.51,2462.23 L307.34,2459.92 L310.16,2457.68 L312.99,2455.5 L315.82,2453.4 L318.65,2451.36 L321.49,2449.38 L324.33,2447.48 L327.17,2445.64 L330.01,2443.87 L332.85,2442.17 L335.7,2440.54 L338.55,2438.97 L341.41,2437.47 L344.26,2436.04 L347.12,2434.68 L349.97,2433.38 L352.83,2432.15 L355.69,2430.99 L358.56,2429.9 L361.42,2428.87 L364.28,2427.92 L367.14,2427.02 L370,2426.2 L372.86,2425.45 L375.72,2424.76 L378.58,2424.14 L381.44,2423.59 L384.29,2423.1 L387.14,2422.69 L389.99,2422.34 L392.83,2422.05 L395.67,2421.84 L398.5,2421.69 L401.33,2421.62 L404.16,2421.6 L406.98,2421.66 L409.79,2421.78 L412.59,2421.98 L415.39,2422.23 L418.18,2422.56 L420.96,2422.96 L423.73,2423.42 L426.5,2423.95 L429.25,2424.54 L431.99,2425.21 L434.72,2425.94 L437.45,2426.74 L440.16,2427.61 L442.86,2428.55 L445.54,2429.55 L448.22,2430.62 L450.88,2431.76 L453.52,2432.96 L456.16,2434.24 L458.78,2435.58 L461.38,2436.99 L463.98,2438.46 L466.55,2440.01 L469.11,2441.62 L471.66,2443.3 L474.19,2445.04 L476.7,2446.86 L479.2,2448.74 L481.69,2450.69 L484.15,2452.71 L486.6,2454.79 L489.04,2456.94 L491.45,2459.16 L493.86,2461.45 L496.24,2463.81 L498.61,2466.23 L500.96,2468.72 L503.3,2471.28 L505.62,2473.9 L507.93,2476.6 L510.22,2479.36 L512.49,2482.19 L514.75,2485.08 L517,2488.05 L519.23,2491.08 L521.45,2494.18 L523.66,2497.34 L525.85,2500.58 L528.03,2503.88 L530.2,2507.25 L532.36,2510.69 L534.51,2514.19 L536.65,2517.76 L538.78,2521.4 L540.91,2525.11 L543.03,2528.89 L545.14,2532.73 L547.25,2536.64 L549.35,2540.62 L551.45,2544.66 L553.55,2548.78 L555.66,2552.96 L557.76,2557.21 L559.86,2561.52 L561.97,2565.91 L564.09,2570.36 L566.21,2574.88 L568.34,2579.46 L570.48,2584.12 L572.64,2588.84 L574.81,2593.63 L576.99,2598.48 L579.19,2603.41 L581.41,2608.4 L583.66,2613.46 L585.93,2618.59 L588.22,2623.78 L590.55,2629.05 L592.9,2634.38 L595.29,2639.78" stroke="#ff0000"/>
</g>
<path d="M95.5,2449.94H715.55" stroke="#a6a6a6" stroke-width="4.1" stroke-dasharray="13.9 11.05" fill="none"/>
<path d="M98.25,2102H714.05M714.05,2605.9H98.25" fill="none" stroke="#000" stroke-width="3.95"/>
<path d="M714.05,2101.9V2605.9" fill="none" stroke="#000" stroke-width="3.8"/>
<path d="M98.25,2605.9V2101.9" fill="none" stroke="#000" stroke-width="3.5"/>
<text class="tk" transform="translate(87.45,2614.1) scale(1,1.04)" text-anchor="end">1.4</text>
<text class="tk" transform="translate(87.45,2561.05) scale(1,1.04)" text-anchor="end">1.6</text>
<text class="tk" transform="translate(87.45,2508) scale(1,1.04)" text-anchor="end">1.8</text>
<text class="tk" transform="translate(87.45,2454.94) scale(1,1.04)" text-anchor="end">2.0</text>
<text class="tk" transform="translate(87.45,2401.89) scale(1,1.04)" text-anchor="end">2.2</text>
<text class="tk" transform="translate(87.45,2348.84) scale(1,1.04)" text-anchor="end">2.4</text>
<text class="tk" transform="translate(87.45,2295.79) scale(1,1.04)" text-anchor="end">2.6</text>
<text class="tk" transform="translate(87.45,2242.74) scale(1,1.04)" text-anchor="end">2.8</text>
<text class="tk" transform="translate(87.45,2189.68) scale(1,1.04)" text-anchor="end">3.0</text>
<text class="tk" transform="translate(87.45,2136.63) scale(1,1.04)" text-anchor="end">3.2</text>
<text class="tk" transform="translate(142.33,2637.1) scale(1,1.04)" text-anchor="middle">-60</text>
<text class="tk" transform="translate(230.31,2637.1) scale(1,1.04)" text-anchor="middle">-40</text>
<text class="tk" transform="translate(318.28,2637.1) scale(1,1.04)" text-anchor="middle">-20</text>
<text class="tk" transform="translate(406.25,2637.1) scale(1,1.04)" text-anchor="middle">0</text>
<text class="tk" transform="translate(494.22,2637.1) scale(1,1.04)" text-anchor="middle">20</text>
<text class="tk" transform="translate(582.19,2637.1) scale(1,1.04)" text-anchor="middle">40</text>
<text class="tk" transform="translate(670.17,2637.1) scale(1,1.04)" text-anchor="middle">60</text>
<text class="ax" transform="translate(406.9,2691.4) scale(1,1.04)" text-anchor="middle">Defocus (nm)</text>
<text class="ay" transform="translate(26.65,2340.7) rotate(-90) scale(1,1.04)" text-anchor="middle">NILS</text>
<text class="tt" transform="translate(405.85,2077.9) scale(1,1.04)" text-anchor="middle">10nm</text>
<rect x="570.05" y="2115.2" width="132.5" height="63" fill="#fff" stroke="#1a1a1a" stroke-width="1.2"/>
<path d="M577.85,2130.3H635.35" stroke="#ff0000" stroke-width="6.6"/>
<path d="M577.85,2163.6H635.35" stroke="#000" stroke-width="6.6"/>
<text class="lg" transform="translate(641.35,2139.3) scale(1,1.04)">PSM</text>
<text class="lg" transform="translate(641.35,2172.2) scale(1,1.04)">BIM</text>
</g>
</svg></body></html>
